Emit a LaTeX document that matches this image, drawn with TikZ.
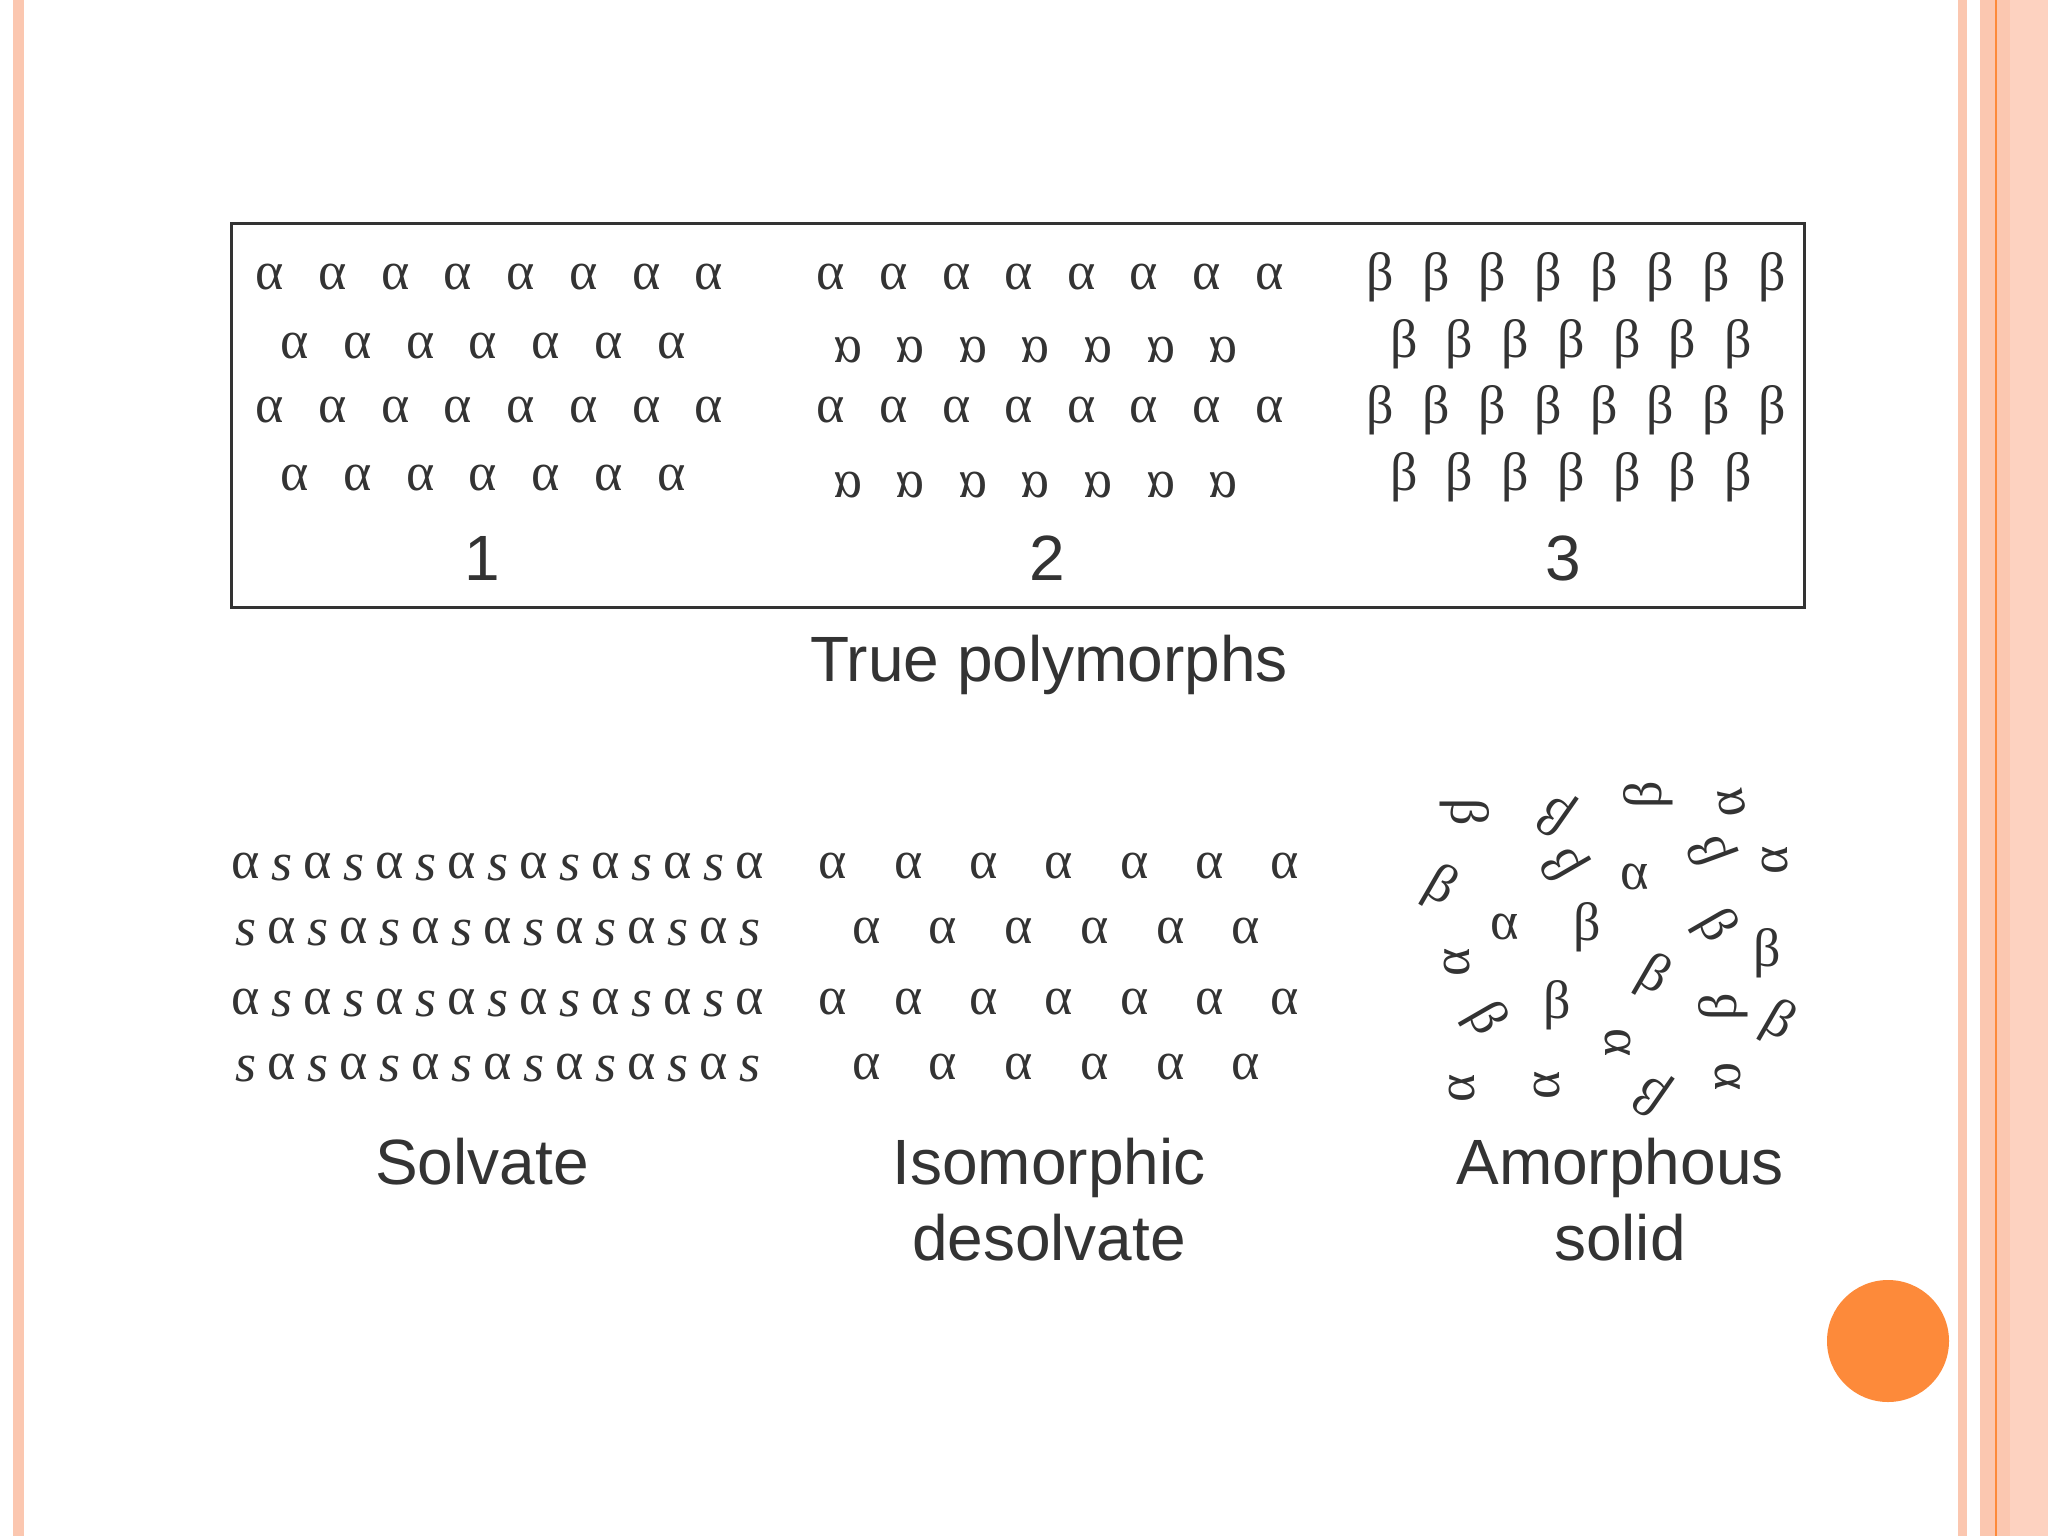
\documentclass[tikz,border=0pt]{standalone}
\usepackage{fontspec}
\setmainfont{Liberation Sans}
\newfontfamily\gr{Liberation Serif}
\definecolor{peach}{HTML}{FBC7B0}
\definecolor{peachl}{HTML}{FDD2C0}
\definecolor{orng}{HTML}{FD8A3A}
\tikzset{g/.style={inner sep=0pt,font=\gr\fontsize{54}{54}\selectfont,text=black!80},
 lbl/.style={inner sep=0pt,font=\fontsize{64}{76}\selectfont,text=black!80,align=center}}
\newcommand{\ra}{α}
\newcommand{\fa}{\scalebox{-1}[1]{α}}
\begin{document}
\begin{tikzpicture}[x=1pt,y=-1pt]
\useasboundingbox (0,0) rectangle (2048,1536);
\fill[white] (0,0) rectangle (2048,1536);
\fill[peach] (13,0) rectangle (24,1536);
\fill[peach] (1958,0) rectangle (1967,1536);
\fill[peachl] (1980,0) rectangle (2048,1536);
\fill[peach] (1980,0) rectangle (2010,1536);
\draw[orng,line width=1.5pt] (1996,0) -- (1996,1536);
\node[draw=black!80,line width=3pt,minimum width=1573pt,minimum height=384pt,inner sep=0pt] (box) at (1017.5,415) {};
% column 1
\foreach \r/\y in {1/277,3/410}{\foreach \i in {0,...,7}{\node[g] (a\r-\i) at (270+62.7*\i,\y) {α};}}
\foreach \r/\y in {2/346,4/478}{\foreach \i in {0,...,6}{\node[g] (a\r-\i) at (295+62.7*\i,\y) {α};}}
% column 2
\foreach \r/\y in {1/277,3/410}{\foreach \i in {0,...,7}{\node[g] (b\r-\i) at (831+62.6*\i,\y) {α};}}
\foreach \r/\y in {2/350,4/485}{\foreach \i in {0,...,6}{\node[g] (b\r-\i) at (848+62.6*\i,\y) {\scalebox{-1}[1]{α}};}}
% column 3
\foreach \r/\y in {1/277,3/410}{\foreach \i in {0,...,7}{\node[g] (c\r-\i) at (1380+56*\i,\y) {β};}}
\foreach \r/\y in {2/344,4/477}{\foreach \i in {0,...,6}{\node[g] (c\r-\i) at (1404+55.7*\i,\y) {β};}}
\node[lbl] (n1) at (482,558) {1};
\node[lbl] (n2) at (1047,558) {2};
\node[lbl] (n3) at (1563,558) {3};
\node[lbl] (tp) at (1049,665) {True polymorphs};
% solvate
\foreach \r/\y/\o in {1/866/0,2/931/1,3/1002/0,4/1067/1}{
 \foreach \i in {0,...,14}{
  \pgfmathtruncatemacro{\p}{mod(\i+\o,2)}
  \ifnum\p=0 \node[g] (s\r-\i) at (246+36*\i,\y) {α};
  \else \node[g] (s\r-\i) at (246+36*\i,\y+2) {\itshape s};\fi}}
% isomorphic desolvate
\foreach \r/\y in {1/866,3/1002}{\foreach \i in {0,...,6}{\node[g] (d\r-\i) at (833+75.3*\i,\y) {α};}}
\foreach \r/\y in {2/931,4/1067}{\foreach \i in {0,...,5}{\node[g] (d\r-\i) at (867+75.8*\i,\y) {α};}}
% amorphous
\foreach \k/\x/\y/\c/\a in {1/1465/812/β/-90,2/1557/813/β/145,3/1648/795/β/90,4/1732/803/α/100,
 5/1565/863/β/120,6/1635/877/\fa/180,7/1712/850/β/110,8/1775/860/α/90,
 9/1440/888/β/-30,10/1505/927/\fa/180,11/1587/927/β/0,12/1715/927/β/-60,
 13/1767/953/β/0,14/1457/962/α/90,15/1653/977/β/-30,16/1557/1005/β/0,
 17/1485/1020/β/-60,18/1723/1007/β/90,19/1778/1023/β/-30,20/1618/1043/α/-90,
 21/1462/1088/α/90,22/1547/1085/α/90,23/1653/1093/β/145,24/1728/1077/α/-90}{
 \node[g,rotate=\a] (m\k) at (\x,\y) {\c};}
\node[lbl] (sv) at (482,1162) {Solvate};
\node[lbl] (iso) at (1049,1200) {Isomorphic\\desolvate};
\node[lbl] (am) at (1620,1200) {Amorphous\\solid};
\fill[orng] (1888,1341) circle (61);
\end{tikzpicture}
\end{document}
